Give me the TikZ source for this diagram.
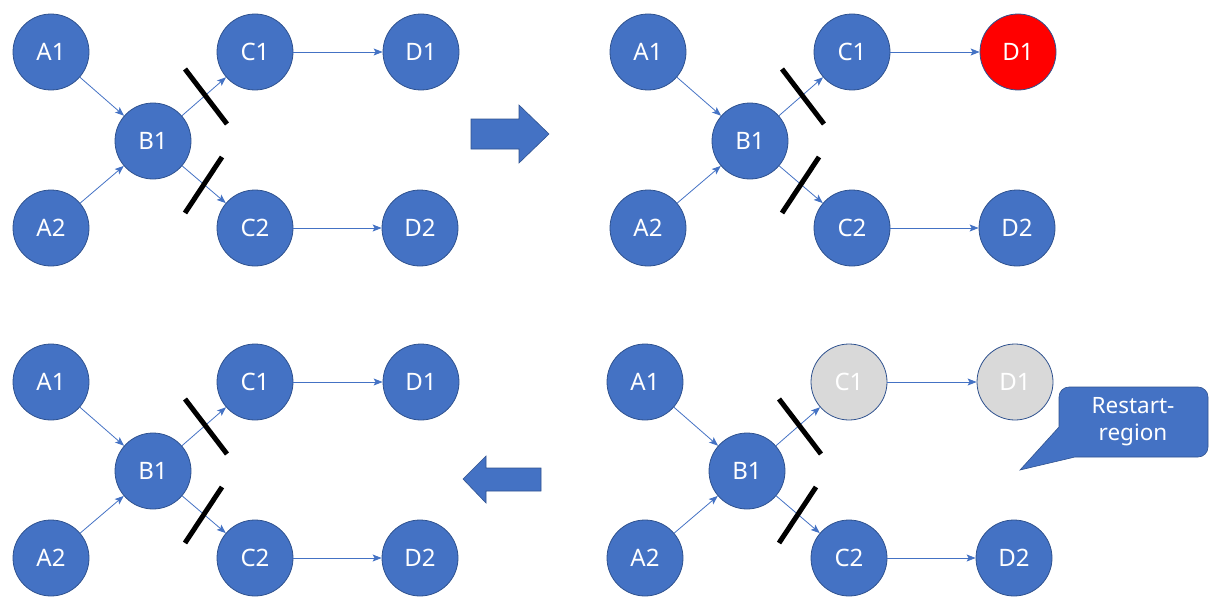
\documentclass[tikz,border=0pt]{standalone}
\usepackage{fontspec}
\setmainfont{Noto Sans}
\usetikzlibrary{arrows.meta}
\definecolor{nodeblue}{HTML}{4472C4}
\definecolor{edgeblue}{HTML}{2F528F}
\definecolor{ggray}{HTML}{D9D9D9}
\tikzset{
  vtx/.style={circle, fill=nodeblue, draw=edgeblue, line width=0.8pt, minimum size=76pt, inner sep=0pt, text=white, font=\fontsize{24}{28}\selectfont},
  redvtx/.style={vtx, fill=red},
  grayvtx/.style={vtx, fill=ggray},
  link/.style={draw=nodeblue, line width=0.8pt, -{Stealth[length=9pt,width=7pt,inset=2pt]}},
  cut/.style={line width=5pt, black},
  blockarrow/.style={fill=nodeblue, draw=edgeblue, line width=0.6pt},
  calloutshape/.style={fill=nodeblue, draw=edgeblue, line width=0.6pt},
  callouttext/.style={text=white, align=center, font=\fontsize{22.5}{27}\selectfont},
}
\newcommand\drawpanel[5]{%
\begin{scope}[shift={(#2,#3)}]
  \node[vtx] (#1A1) at (51,52) {A1};
  \node[vtx] (#1A2) at (51,228) {A2};
  \node[vtx] (#1B1) at (153,141) {B1};
  \node[#4] (#1C1) at (255,52) {C1};
  \node[vtx] (#1C2) at (255,228) {C2};
  \node[#5] (#1D1) at (421,52) {D1};
  \node[vtx] (#1D2) at (420,228) {D2};
  \draw[link] (#1A1) -- (#1B1);
  \draw[link] (#1A2) -- (#1B1);
  \draw[link] (#1B1) -- (#1C1);
  \draw[link] (#1B1) -- (#1C2);
  \draw[link] (#1C1) -- (#1D1);
  \draw[link] (#1C2) -- (#1D2);
  \draw[cut] (185,69) -- (227,124);
  \draw[cut] (222,157) -- (185,213);
\end{scope}}
\begin{document}
\begin{tikzpicture}[x=1pt,y=-1pt]
  \useasboundingbox (0,0) rectangle (1217,610);
  \drawpanel{tl}{0}{0}{vtx}{vtx}
  \drawpanel{tr}{597}{0}{vtx}{redvtx}
  \drawpanel{bl}{0}{330}{vtx}{vtx}
  \drawpanel{br}{594}{330}{grayvtx}{grayvtx}
  % block arrows
  \draw[blockarrow] (471,119) -- (519,119) -- (519,105) -- (549,134) -- (519,163) -- (519,149) -- (471,149) -- cycle;
  \draw[blockarrow] (541,468) -- (486,468) -- (486,456) -- (463,479) -- (486,503) -- (486,491) -- (541,491) -- cycle;
  % callout
  \draw[calloutshape] (1020,470) -- (1059,427) [rounded corners=10pt] -- (1059,387) -- (1208,387) -- (1208,457) [sharp corners] -- (1075,457) -- cycle;
  \node[callouttext] (callout) at (1133,422) {Restart-\\region};
\end{tikzpicture}
\end{document}
